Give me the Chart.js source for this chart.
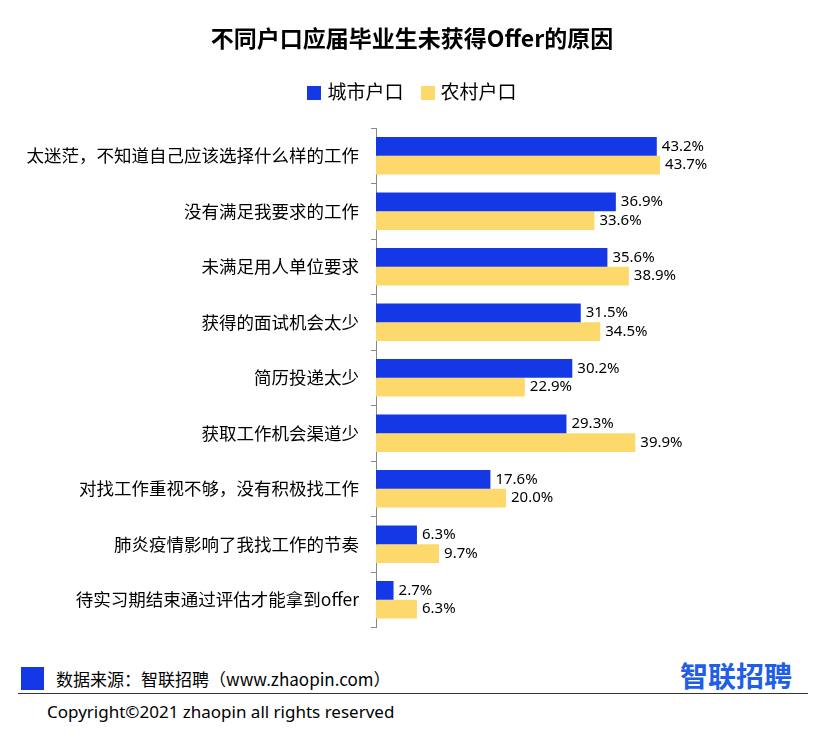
<!DOCTYPE html>
<html>
<head>
<meta charset="utf-8">
<script src="https://cdn.jsdelivr.net/npm/chart.js@4"></script>
<style>
  body { margin: 0; background: #fff; font-family: "Noto Sans CJK SC", sans-serif; }
  #wrap { position: absolute; left: 0; top: 0; width: 824px; height: 650px; }
  #title { position: absolute; left: 0; width: 824px; top: 20px; text-align: center; font-size: 23px; font-weight: bold; color: #000; }
  #legend { position: absolute; left: 0; width: 824px; top: 77px; text-align: center; font-size: 19px; color: #000; }
  #legend span.box { display: inline-block; width: 14px; height: 14px; margin-right: 6px; vertical-align: -1px; }
  #src-box { position: absolute; left: 21px; top: 667px; width: 23px; height: 23px; background: #1438e6; }
  #src { position: absolute; left: 56px; top: 666px; font-size: 17px; color: #000; }
  #logo { position: absolute; left: 680px; top: 655px; font-size: 28px; font-weight: bold; color: #1f5ee8; }
  #rule { position: absolute; left: 18px; top: 693px; width: 790px; height: 1px; background: #333; }
  #copy { position: absolute; left: 47px; top: 700px; font-size: 17px; color: #000; font-family: "Noto Sans", sans-serif; }
</style>
</head>
<body>
<div id="wrap"><canvas id="c"></canvas></div>
<div id="title">不同户口应届毕业生未获得Offer的原因</div>
<div id="legend"><span class="box" style="background:#1438e6"></span>城市户口&nbsp;&nbsp;&nbsp;&nbsp;<span class="box" style="background:#fdd86b"></span>农村户口</div>
<div id="src-box"></div>
<div id="src">数据来源：智联招聘（www.zhaopin.com）</div>
<div id="logo">智联招聘</div>
<div id="rule"></div>
<div id="copy">Copyright©2021 zhaopin all rights reserved</div>
<script>
var categories = [
  "太迷茫，不知道自己应该选择什么样的工作",
  "没有满足我要求的工作",
  "未满足用人单位要求",
  "获得的面试机会太少",
  "简历投递太少",
  "获取工作机会渠道少",
  "对找工作重视不够，没有积极找工作",
  "肺炎疫情影响了我找工作的节奏",
  "待实习期结束通过评估才能拿到offer"
];
var urban = [43.2, 36.9, 35.6, 31.5, 30.2, 29.3, 17.6, 6.3, 2.7];
var rural = [43.7, 33.6, 38.9, 34.5, 22.9, 39.9, 20.0, 9.7, 6.3];

var valueLabels = {
  id: "valueLabels",
  afterDatasetsDraw: function (chart) {
    var c = chart.ctx;
    c.save();
    c.font = "15px 'Noto Sans', sans-serif";
    c.fillStyle = "#000";
    c.textBaseline = "middle";
    chart.data.datasets.forEach(function (ds, i) {
      chart.getDatasetMeta(i).data.forEach(function (bar, j) {
        c.fillText(ds.data[j].toFixed(1) + "%", bar.x + 5, bar.y);
      });
    });
    c.restore();
  }
};

new Chart(document.getElementById("c"), {
  type: "bar",
  data: {
    labels: categories,
    datasets: [
      { label: "城市户口", data: urban, backgroundColor: "#1438e6" },
      { label: "农村户口", data: rural, backgroundColor: "#fdd86b" }
    ]
  },
  options: {
    indexAxis: "y",
    responsive: true,
    maintainAspectRatio: false,
    animation: false,
    categoryPercentage: 0.68,
    barPercentage: 1.0,
    layout: { padding: { left: 0, right: 123, top: 128, bottom: 22 } },
    plugins: {
      legend: { display: false },
      tooltip: { enabled: false }
    },
    scales: {
      x: { display: false, min: 0, max: 50 },
      y: {
        offset: true,
        afterFit: function (scale) { scale.width = 376; },
        grid: { drawOnChartArea: false, drawTicks: true, tickLength: 5, offset: true, color: "#888" },
        border: { color: "#888" },
        ticks: { color: "#000", padding: 12, font: { size: 17.5, family: "'Noto Sans CJK SC'" } }
      }
    }
  },
  plugins: [valueLabels]
});
</script>
</body>
</html>
